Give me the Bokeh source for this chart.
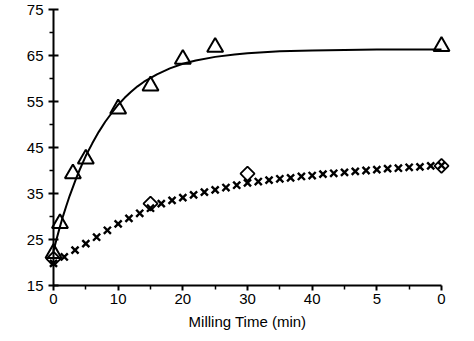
import math
from bokeh.plotting import figure
from bokeh.models import Range1d, FixedTicker
from bokeh.embed import file_html
from bokeh.resources import INLINE

# Triangles (measured points)
tri_t = [0, 1, 3, 5, 10, 15, 20, 25, 60]
tri_v = [22.0, 28.5, 39.3, 42.5, 53.4, 58.4, 64.2, 66.8, 67.0]

# Smooth fitted curve through triangles
curve_t = [0, 0.5, 1, 1.5, 2, 2.5, 3, 3.5, 4, 4.5, 5, 6, 7, 8, 9, 10, 11, 12, 13, 14, 16, 18, 20, 22, 25, 28, 30, 35, 40, 50, 60]
curve_v = [22.5, 25.2, 27.8, 30.2, 32.4, 34.5, 36.4, 38.3, 40.0, 41.6, 43.2, 45.9, 48.4, 50.6, 52.5, 54.3, 55.8, 57.1, 58.3, 59.3, 60.9, 62.2, 63.2, 63.9, 64.7, 65.2, 65.5, 65.9, 66.1, 66.3, 66.3]

# Crosses
cross_t = [i * 5 / 3 for i in range(37)]
cross_v = [19.8, 21.2, 22.7, 24.1, 25.5, 27.0, 28.4, 29.6, 30.7, 31.8, 32.8, 33.5, 34.1,
           34.7, 35.3, 35.8, 36.3, 36.8, 37.3, 37.6, 37.9, 38.2, 38.4, 38.7, 38.9, 39.2,
           39.4, 39.6, 39.8, 40.0, 40.2, 40.4, 40.5, 40.7, 40.8, 41.0, 41.1]

# Diamonds
dia_t = [0, 15, 30, 60]
dia_v = [20.8, 32.8, 39.3, 41.0]

x_ticks = [0, 10, 20, 30, 40, 50, 60]
x_tick_labels = ["0", "10", "20", "30", "40", "5", "0"]
y_ticks = [15, 25, 35, 45, 55, 65, 75]
x_label = "Milling Time (min)"

FONT = "Liberation Sans"

# pixel layout of the axes box: x 0->53px, 60->441px ; y 75->9px, 15->285px
W, H = 474, 341
sx = (441 - 53) / 60.0
sy = (285 - 9) / 60.0
x_range = Range1d(0 - 53 / sx, 60 + (W - 441) / sx)
y_range = Range1d(15 - (H - 285) / sy, 75 + 9 / sy)

p = figure(width=W, height=H, output_backend="svg", toolbar_location=None,
           x_range=x_range, y_range=y_range,
           min_border_left=0, min_border_right=0, min_border_top=0, min_border_bottom=0)
p.outline_line_color = None
p.grid.visible = False
p.background_fill_color = "white"
p.border_fill_color = "white"

p.line(curve_t, curve_v, line_color="black", line_width=2)
p.scatter(cross_t, cross_v, marker="x", size=10, line_color="black", line_width=2.4)
p.scatter(dia_t, dia_v, marker="square", angle=math.pi / 4, size=10,
          line_color="black", line_width=1.8, fill_alpha=0)
p.scatter(tri_t, tri_v, marker="triangle", size=16, line_color="black",
          line_width=2, fill_alpha=0)

xa = p.xaxis[0]
xa.ticker = FixedTicker(ticks=x_ticks, minor_ticks=[5, 15, 25, 35, 45, 55])
xa.major_label_overrides = {t: l for t, l in zip(x_ticks, x_tick_labels)}
xa.bounds = (0, 60)
xa.fixed_location = 15
xa.axis_label = x_label
xa.axis_label_text_font = FONT
xa.axis_label_text_font_size = "15px"
xa.axis_label_text_font_style = "normal"
xa.axis_label_standoff = 6
xa.major_label_text_font = FONT
xa.major_label_text_font_size = "15px"
xa.major_label_standoff = 3
xa.major_tick_in = 0
xa.major_tick_out = 5
xa.minor_tick_in = 0
xa.minor_tick_out = 4

ya = p.yaxis[0]
ya.ticker = FixedTicker(ticks=y_ticks, minor_ticks=[20, 30, 40, 50, 60, 70])
ya.bounds = (15, 75)
ya.fixed_location = 0
ya.major_label_text_font = FONT
ya.major_label_text_font_size = "15px"
ya.major_label_standoff = 5
ya.major_tick_in = 5
ya.major_tick_out = 5
ya.minor_tick_in = 0
ya.minor_tick_out = 4

for ax in (xa, ya):
    ax.axis_line_width = 2
    ax.major_tick_line_width = 2
    ax.minor_tick_line_width = 1.5
    ax.axis_line_color = "black"
    ax.major_tick_line_color = "black"
    ax.minor_tick_line_color = "black"
    ax.major_label_text_color = "black"
    ax.axis_label_text_color = "black"

open("out.html", "w").write(file_html(p, INLINE))
